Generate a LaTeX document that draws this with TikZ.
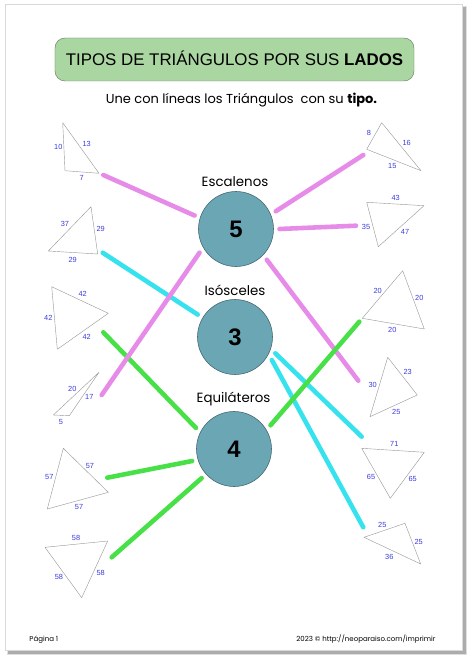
\documentclass[tikz,border=0pt]{standalone}
\usepackage{fontspec}
\setmainfont{Poppins}
\newfontfamily\arialfont{Liberation Sans}
\definecolor{titlegreen}{HTML}{AAD6A2}
\definecolor{titleedge}{HTML}{5E7D58}
\definecolor{balltone}{HTML}{6BA6B5}
\definecolor{balledge}{HTML}{44646E}
\definecolor{linkpink}{HTML}{E78BE9}
\definecolor{linkcyan}{HTML}{36E2EE}
\definecolor{linkgreen}{HTML}{47E047}
\definecolor{sidenum}{HTML}{3C3CE0}
\begin{document}
\begin{tikzpicture}[x=0.5mm, y=-0.5mm,
          head/.style={draw=titleedge, fill=titlegreen, line width=0.6pt, rounded corners=0.5cm,
                       minimum width=17.95cm, minimum height=2.15cm, text height=6.1mm, text depth=0pt,
                       font=\arialfont\fontsize{24}{29}\selectfont},
          lead/.style={anchor=base, font=\fontsize{18.5}{22}\selectfont},
          kind/.style={anchor=base, font=\fontsize{19}{22}\selectfont},
          ball/.style={circle, draw=balledge, line width=0.8pt, fill=balltone, minimum size=37.5mm,
                       outer sep=3mm, font=\arialfont\bfseries\fontsize{34}{34}\selectfont},
          side/.style={text=sidenum, inner sep=0pt, font=\arialfont\fontsize{10.5}{12}\selectfont},
          tri/.style={draw=gray!80, line width=0.6pt, line join=round},
          link/.style={line width=6.5pt, line cap=round},
          foot/.style={font=\fontsize{10}{12}\selectfont}]
        \useasboundingbox (0,0) rectangle (474,664);
        % page and its shadow
        \fill[gray!25] (7,6) rectangle (467,655);
        \fill[gray!65] (8,7) rectangle (466,654);
        \filldraw[fill=white, draw=gray!30] (5,4) rectangle (462,650);
        % heading
        \node[head] (title) at (234.5,59.5) {TIPOS DE TRIÁNGULOS POR SUS \textbf{LADOS}};
        \node[lead] (task) at (241.5,103.3) {Une con líneas los Triángulos\ \ con su \textbf{tipo.}};
        % the three kinds
        \node[ball] (esc) at (236,229) {5};
        \node[ball] (iso) at (235,337) {3};
        \node[ball] (equ) at (234,449) {4};
        \node[kind] (esclab) at (235,186.7) {Escalenos};
        \node[kind] (isolab) at (235,295) {Isósceles};
        \node[kind] (equlab) at (233.5,402.7) {Equiláteros};
        % left triangles
        \draw[tri] (62.7,122.7) -- (65,170.7) -- (99,173.3) -- cycle;
        \node[side] (l1a) at (58.3,146.7) {10};
        \node[side] (l1b) at (86.7,144.3) {13};
        \node[side] (l1c) at (81.7,178.3) {7};
        \draw[tri] (91,206.7) -- (48.3,251) -- (97.7,254) -- cycle;
        \node[side] (l2a) at (65,224.3) {37};
        \node[side] (l2b) at (100.7,229) {29};
        \node[side] (l2c) at (72.7,260) {29};
        \draw[tri] (51.7,286.7) -- (108.3,313.3) -- (57.3,349.3) -- cycle;
        \node[side] (l3a) at (82.7,294.3) {42};
        \node[side] (l3b) at (48.3,318.3) {42};
        \node[side] (l3c) at (86.7,336.7) {42};
        \draw[tri] (99,372.3) -- (53.3,415) -- (69.3,415.7) -- cycle;
        \node[side] (l4a) at (72.3,389) {20};
        \node[side] (l4b) at (89.3,397.3) {17};
        \node[side] (l4c) at (61,421.7) {5};
        \draw[tri] (63.3,448.3) -- (108.3,492.3) -- (47.3,509) -- cycle;
        \node[side] (l5a) at (90,465.7) {57};
        \node[side] (l5b) at (49.3,477.3) {57};
        \node[side] (l5c) at (79,507.3) {57};
        \draw[tri] (45,547.3) -- (107.7,541) -- (81.7,597.7) -- cycle;
        \node[side] (l6a) at (76,538.3) {58};
        \node[side] (l6b) at (59,576.7) {58};
        \node[side] (l6c) at (100.7,572.7) {58};
        % right triangles
        \draw[tri] (381.7,122.7) -- (366.7,149.3) -- (421,170.7) -- cycle;
        \node[side] (r1a) at (369,133.3) {8};
        \node[side] (r1b) at (406.7,142.7) {16};
        \node[side] (r1c) at (392.3,166) {15};
        \draw[tri] (366.7,202.3) -- (424,205.7) -- (378.3,246.7) -- cycle;
        \node[side] (r2a) at (395.7,197.7) {43};
        \node[side] (r2b) at (366,226.7) {35};
        \node[side] (r2c) at (405,231.7) {47};
        \draw[tri] (402.7,270.7) -- (362.3,318.3) -- (424.3,329) -- cycle;
        \node[side] (r3a) at (377.7,290.7) {20};
        \node[side] (r3b) at (419.3,297.7) {20};
        \node[side] (r3c) at (392.3,330.3) {20};
        \draw[tri] (387.7,357.3) -- (417.3,395) -- (370,416.7) -- cycle;
        \node[side] (r4a) at (372.7,385) {30};
        \node[side] (r4b) at (407.7,372.3) {23};
        \node[side] (r4c) at (396.3,412) {25};
        \draw[tri] (361.7,448.3) -- (424.3,452.3) -- (390.3,498.3) -- cycle;
        \node[side] (r5a) at (394.3,444) {71};
        \node[side] (r5b) at (371,476.7) {65};
        \node[side] (r5c) at (412.7,479) {65};
        \draw[tri] (364,537.3) -- (405,523.3) -- (420.7,564) -- cycle;
        \node[side] (r6a) at (382.3,525) {25};
        \node[side] (r6b) at (418.7,542) {25};
        \node[side] (r6c) at (389.3,556.7) {36};
        % ends of the lines next to the triangles
        \coordinate (a1) at (103.3,175);
        \coordinate (a2) at (102.7,252.7);
        \coordinate (a3) at (103.3,332.3);
        \coordinate (a4) at (101.7,395);
        \coordinate (a5) at (107.3,477.7);
        \coordinate (a6) at (111.7,557.3);
        \coordinate (b1) at (363.3,155);
        \coordinate (b2) at (356,225.7);
        \coordinate (b3) at (359.3,321.7);
        \coordinate (b4) at (358.3,380.7);
        \coordinate (b5) at (361.7,436.7);
        \coordinate (b6) at (363.3,527.3);
        % answer lines
        \draw[link, linkpink] (a1) -- (esc.162.6);
        \draw[link, linkpink] (esc.24) -- (b1);
        \draw[link, linkpink] (esc.0) -- (b2);
        \draw[link, linkpink] (esc.-45.6) -- (b4);
        \draw[link, linkcyan] (a2) -- (iso.149);
        \draw[link, linkcyan] (iso.-22) -- (b5);
        \draw[link, linkcyan] (iso.-32) -- (b6);
        \draw[link, linkgreen] (a3) -- (equ.151);
        \draw[link, linkpink] (a4) -- (esc.213);
        \draw[link, linkgreen] (equ.33.7) -- (b3);
        \draw[link, linkgreen] (a5) -- (equ.196);
        \draw[link, linkgreen] (a6) -- (equ.222);
        % footer
        \node[foot, anchor=base west] (page) at (27,641) {Página 1};
        \node[foot, anchor=base east] (site) at (438,641) {2023 © http://neoparaiso.com/imprimir};
      \end{tikzpicture}
\end{document}
